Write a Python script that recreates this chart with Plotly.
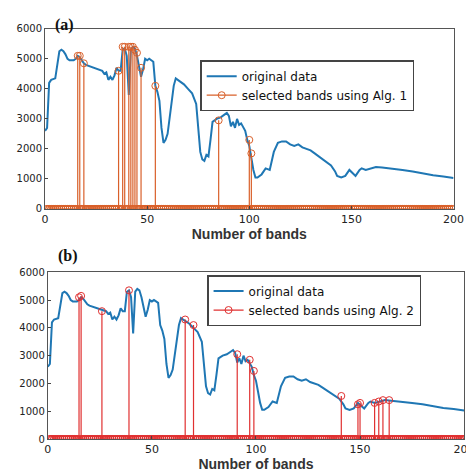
import plotly.graph_objects as go

bands = [0,1,2,3,5,6,7,8,9,10,11,12,14,15,16,17,18,19,20,22,24,26,28,29,30,31,32,33,34,35,36,37,38,39,40,41,42,43,44,45,46,47,48,49,50,51,52,53,54,55,56,57,58,59,60,61,62,63,64,65,66,68,70,72,74,75,76,77,78,79,80,81,82,84,86,88,89,90,91,92,93,94,95,96,97,98,99,100,101,102,103,104,106,108,110,112,114,116,118,120,122,124,126,128,130,132,134,136,138,140,142,143,145,147,149,151,152,154,155,157,159,162,165,170,175,180,185,190,195,200]
spectrum = [2600,2700,4200,4300,4350,4900,5250,5300,5250,5150,5000,4950,4950,5000,5100,5050,4950,4850,4800,4750,4700,4650,4600,4500,4550,4300,4400,4300,4450,4700,4600,4600,5300,5350,5100,3800,5300,5400,5350,5100,4800,4400,4650,5000,4950,5000,4950,4900,4100,3900,3600,2700,2200,2300,2500,3100,3700,4100,4350,4300,4250,4150,4000,3850,3500,2700,1900,1650,1600,1800,1750,2300,2900,3000,3050,3150,3200,3100,2750,2900,2700,3000,2800,2850,2700,2600,2300,2100,1700,1300,1050,1050,1150,1350,1300,1900,2200,2250,2250,2150,2100,2150,2050,2000,1950,1850,1750,1650,1550,1450,1250,1100,1050,1100,1300,1150,1100,1300,1350,1300,1350,1400,1380,1350,1300,1250,1180,1120,1080,1030]

sel_a_bands = [16,17,19,36,38,39,41,42,43,44,45,47,54,85,100,101]
sel_a_vals = [5100,5100,4850,4600,5400,5400,5400,5400,5400,5300,5200,4700,4100,2950,2300,1850]
sel_b_bands = [15,16,26,39,66,70,91,97,99,141,149,150,157,159,161,164]
sel_b_vals = [5100,5150,4600,5350,4300,4100,3050,2850,2450,1550,1250,1300,1300,1350,1400,1400]
all_bands = list(range(1, 201))
xticks = [0,50,100,150,200]
yticks = [0,1000,2000,3000,4000,5000,6000]

BLUE = "#1f77b4"
ORANGE = "#d9602a"
RED = "#e03030"

def stems(sb, sv):
    d = dict(zip(sb, sv))
    xs, ys = [], []
    for b in all_bands:
        xs += [b, b, None]
        ys += [0, d.get(b, 0), None]
    return xs, ys

fig = go.Figure()
for i, (sb, sv, col, lab, leg) in enumerate([
        (sel_a_bands, sel_a_vals, ORANGE, "selected bands using Alg. 1", "legend"),
        (sel_b_bands, sel_b_vals, RED, "selected bands using Alg. 2", "legend2")]):
    xa = "x" if i == 0 else "x2"
    ya = "y" if i == 0 else "y2"
    fig.add_trace(go.Scatter(x=bands, y=spectrum, mode="lines", line=dict(color=BLUE, width=2),
                             name="original data", xaxis=xa, yaxis=ya, legend=leg))
    xs, ys = stems(sb, sv)
    fig.add_trace(go.Scatter(x=xs, y=ys, mode="lines+markers", line=dict(color=col, width=1.2),
                             marker=dict(symbol="circle-open", size=7, color=col),
                             name=lab, xaxis=xa, yaxis=ya, legend=leg))

ax = dict(range=[0, 200], tickvals=xticks, showgrid=False, zeroline=False, showline=True,
          mirror=True, linecolor="#555", ticks="inside", ticklen=3,
          tickfont=dict(size=11, color="#222", family="DejaVu Sans"),
          title=dict(text="<b>Number of bands</b>", font=dict(size=14, family="Liberation Sans", color="#333"), standoff=0))
ay = dict(range=[0, 6000], tickvals=yticks, showgrid=False, zeroline=False, showline=True,
          mirror=True, linecolor="#555", ticks="inside", ticklen=3,
          tickfont=dict(size=10, color="#222", family="DejaVu Sans"))
lg = dict(bgcolor="white", bordercolor="#444", borderwidth=1.5,
          font=dict(size=12, family="DejaVu Sans", color="#111"), xanchor="left", yanchor="top")
fig.update_layout(
    width=474, height=474, margin=dict(l=0, r=0, t=0, b=0),
    paper_bgcolor="white", plot_bgcolor="white", showlegend=True,
    xaxis=dict(ax, domain=[0.072, 0.962], anchor="y"),
    yaxis=dict(ay, domain=[0.578, 0.968], anchor="x"),
    xaxis2=dict(ax, domain=[0.078, 0.985], anchor="y2"),
    yaxis2=dict(ay, domain=[0.08, 0.441], anchor="x2"),
    legend=dict(lg, x=0.41, y=0.90),
    legend2=dict(lg, x=0.425, y=0.435),
    annotations=[
        dict(text="<b>(a)</b>", x=0.09, y=1.0, xref="paper", yref="paper", xanchor="left", yanchor="top",
             showarrow=False, font=dict(size=16, family="Liberation Serif", color="#111")),
        dict(text="<b>(b)</b>", x=0.095, y=0.50, xref="paper", yref="paper", xanchor="left", yanchor="top",
             showarrow=False, font=dict(size=16, family="Liberation Serif", color="#111")),
    ],
)
fig.write_html("out.html")
